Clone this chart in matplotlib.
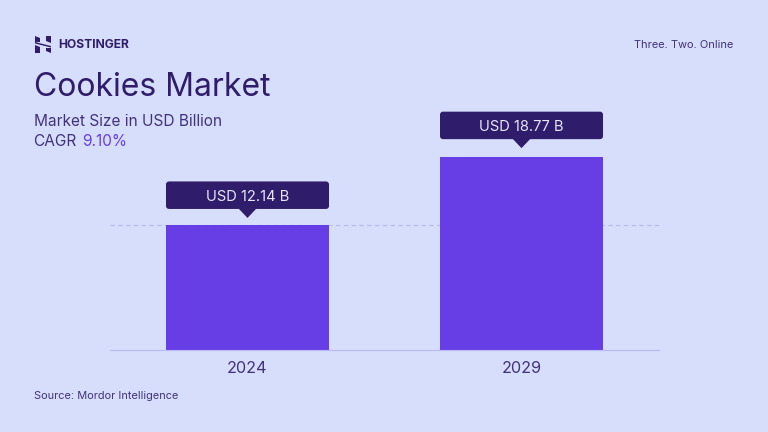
import matplotlib
matplotlib.use('Agg')
import matplotlib.pyplot as plt
from matplotlib.patches import FancyBboxPatch, Polygon

plt.rcParams['font.family'] = ['Inter', 'DejaVu Sans']

# data
years = ['2024', '2029']
market_size = [12.14, 18.77]
bar_labels = ['USD 12.14 B', 'USD 18.77 B']

# gap between bar top and callout, px
callout_gap = [16, 17.5]

bg = '#d6defb'
dark = '#2f1c6a'
purple = '#673de6'
text_col = '#43327c'

fig = plt.figure(figsize=(7.68, 4.32), dpi=100, facecolor=bg)

# plot area, in figure fractions from the pixel positions
ax = fig.add_axes([110 / 768, 1 - 350 / 432, 549 / 768, 250 / 432])
ax.set_facecolor('none')
ax.bar(range(len(years)), market_size, width=0.595, color=purple, zorder=2)
ax.set_xlim(-0.5018, 1.5018)
ax.set_ylim(0, 24.27)
ax.axhline(market_size[0], color='#b8b8f0', lw=0.8, dashes=(4, 3), zorder=1)
for s in ['top', 'left', 'right']:
    ax.spines[s].set_visible(False)
ax.spines['bottom'].set_color('#b9b9f5')
ax.spines['bottom'].set_linewidth(0.8)
ax.set_yticks([])
ax.set_xticks(range(len(years)))
ax.set_xticklabels(years, fontsize=11.7, color=text_col)
ax.tick_params(axis='x', length=0, pad=8.2)

# overlay in pixels for texts and callouts
ov = fig.add_axes([0, 0, 1, 1])
ov.set_xlim(0, 768)
ov.set_ylim(432, 0)
ov.axis('off')
ov.patch.set_alpha(0)

for i in range(len(years)):
    px, py = ov.transData.inverted().transform(ax.transData.transform((i, market_size[i])))
    bottom = py - callout_gap[i]
    box = FancyBboxPatch((px - 79.5, bottom - 25.5), 159, 23.5, boxstyle='round,pad=2,rounding_size=3',
                         fc=dark, ec='none', zorder=3)
    ov.add_patch(box)
    ov.add_patch(Polygon([(px - 9, bottom - 0.5), (px + 9, bottom - 0.5), (px, bottom + 9)], fc=dark, ec='none', zorder=3))
    ov.text(px, bottom - 12.2, bar_labels[i], color='#e6e6fa', fontsize=10.6, ha='center', va='center', zorder=4)

# logo
logo = [
    [(35, 36), (40, 38), (40, 42), (35, 42)],
    [(46, 36), (51, 36), (51, 43), (46, 41)],
    [(35, 42), (51, 46), (51, 47.5), (35, 43.5)],
    [(35, 45), (40, 47), (40, 53), (35, 53)],
    [(46, 48), (51, 48), (51, 53), (46, 51)],
]
for p in logo:
    ov.add_patch(Polygon(p, fc=dark, ec='none'))
ov.text(58, 45, 'HOSTINGER', color=dark, fontsize=8.7, fontweight='bold', va='center')
ov.text(733, 45, 'Three. Two. Online', color=text_col, fontsize=7.95, ha='right', va='center')

ov.text(34, 88, 'Cookies Market', color=dark, fontsize=23, va='center')
ov.text(34, 121.5, 'Market Size in USD Billion', color=text_col, fontsize=11.1, va='center')
ov.text(33.5, 141.5, 'CAGR', color=text_col, fontsize=11.1, va='center')
ov.text(82, 141.5, '9.10%', color=purple, fontsize=11.1, va='center')
ov.text(34, 396, 'Source: Mordor Intelligence', color=text_col, fontsize=7.9, va='center')

fig.savefig('out.png', dpi=100, facecolor=bg)
